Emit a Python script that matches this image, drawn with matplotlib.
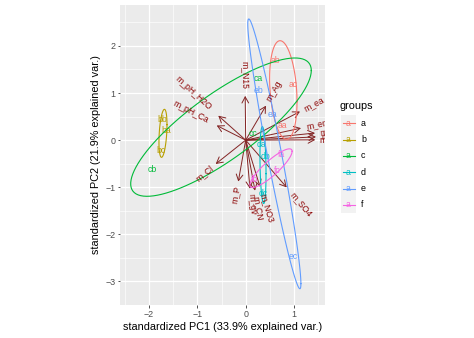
import numpy as np
import matplotlib
matplotlib.use("Agg")
import matplotlib.pyplot as plt
from matplotlib.patches import Rectangle
from matplotlib.lines import Line2D
from matplotlib.textpath import TextToPath
from matplotlib.font_manager import FontProperties

plt.rcParams['font.family'] = ['Liberation Sans', 'DejaVu Sans']

# ---------------- data ----------------
obs_labels = ['aa', 'ab', 'ac', 'ba', 'bb', 'bc', 'ca', 'cb', 'cc',
              'da', 'db', 'dc', 'ea', 'eb', 'ec', 'fa', 'fb', 'fc']
obs_groups = ['a', 'a', 'a', 'b', 'b', 'b', 'c', 'c', 'c',
              'd', 'd', 'd', 'e', 'e', 'e', 'f', 'f', 'f']
pc1 = [0.752, 0.607, 0.979, -1.650, -1.733, -1.754, 0.255, -1.940, 0.151,
       0.317, 0.400, 0.358, 0.545, 0.255, 0.979, 0.731, 0.193, 0.648]
pc2 = [0.317, 1.687, 1.189, 0.214, 0.442, -0.222, 1.313, -0.616, 0.131,
       -0.100, -0.349, -1.137, 0.546, 1.044, -2.463, -0.305, -0.844, -0.637]

group_names = ['a', 'b', 'c', 'd', 'e', 'f']
group_colors = ['#F8766D', '#B79F00', '#00BA38', '#00BFC4', '#619CFF', '#F564E3']

var_names = ['m_N15', 'm_Ag', 'm_ea', 'm_em', 'm_Ct', 'm_Nt', 'm_K',
             'm_pH_H2O', 'm_pH_Ca', 'm_Cl', 'm_P', 'm_gv', 'm_CN', 'm_NO3', 'm_SO4']
var_pc1 = [-0.010, 0.420, 1.124, 1.145, 1.435, 1.455, 1.440,
           -0.567, -0.600, -0.621, -0.153, 0.089, 0.193, 0.296, 0.849]
var_pc2 = [0.940, 0.732, 0.608, 0.255, 0.151, 0.069, 0.006,
           0.519, 0.311, -0.506, -0.880, -1.031, -1.072, -0.990, -1.004]

x_ticks = [-2, -1, 0, 1]
y_ticks = [-3, -2, -1, 0, 1, 2]
x_title = 'standardized PC1 (33.9% explained var.)'
y_title = 'standardized PC2 (21.9% explained var.)'
legend_title = 'groups'

# ---------------- figure ----------------
W, H = 474, 338
fig = plt.figure(figsize=(W / 100, H / 100), dpi=100)
L, R, T, B = 120, 325, 5, 305
ax = fig.add_axes([L / W, 1 - B / H, (R - L) / W, (B - T) / H])
ax.set_facecolor('#EBEBEB')
ax.set_xlim(-2.602, 1.642)
ax.set_ylim(-3.355, 2.869)
for s in ax.spines.values():
    s.set_visible(False)
ax.set_xticks(x_ticks)
ax.set_yticks(y_ticks)
ax.set_xticks([t + 0.5 for t in [-3] + x_ticks], minor=True)
ax.set_yticks([t + 0.5 for t in [-4] + y_ticks], minor=True)
ax.grid(which='major', color='white', lw=0.9)
ax.grid(which='minor', color='white', lw=0.45)
ax.set_axisbelow(True)
ax.tick_params(which='major', length=1.8, width=0.6, color='#333333',
               labelsize=6.4, labelcolor='#4D4D4D', pad=1.5)
ax.tick_params(which='minor', length=0)

ARROW_C = '#832424'
LABEL_C = '#8B0000'
FS_VAR = 6.2

# arrows
for vx, vy in zip(var_pc1, var_pc2):
    ax.annotate('', xy=(vx, vy), xytext=(0, 0),
                arrowprops=dict(arrowstyle='->,head_length=0.55,head_width=0.3',
                                color=ARROW_C, lw=0.7, shrinkA=0, shrinkB=0,
                                mutation_scale=8), zorder=2)

# observation labels
cmap = dict(zip(group_names, group_colors))
for lab, g, x, y in zip(obs_labels, obs_groups, pc1, pc2):
    ax.text(x, y, lab, color=cmap[g], fontsize=6.2, ha='center', va='center',
            clip_on=True, zorder=3)

# ellipses (ggbiplot style, prob 0.68)
ed = np.sqrt(-2 * np.log(1 - 0.68))
t = np.linspace(0, 2 * np.pi, 100)
circle = np.column_stack([np.cos(t), np.sin(t)])
px = np.array(pc1)
py = np.array(pc2)
og = np.array(obs_groups)
for g, c in zip(group_names, group_colors):
    m = og == g
    xy = np.column_stack([px[m], py[m]])
    sigma = np.cov(xy.T)
    Lc = np.linalg.cholesky(sigma)
    ell = circle @ Lc.T * ed + xy.mean(axis=0)
    ax.plot(ell[:, 0], ell[:, 1], color=c, lw=0.8, zorder=4)

# variable names
t2p = TextToPath()
fp = FontProperties(family='Liberation Sans', size=FS_VAR)
for name, vx, vy in zip(var_names, var_pc1, var_pc2):
    ang = np.degrees(np.arctan(vy / vx))
    w, h, d = t2p.get_text_width_height_descent(name, fp, ismath=False)
    off = 0.25 * w
    n = np.hypot(vx, vy)
    ux, uy = vx / n, vy / n
    ax.annotate(name, xy=(vx, vy), xytext=(off * ux, off * uy),
                textcoords='offset points', rotation=ang, rotation_mode='anchor',
                ha='left' if vx > 0 else 'right', va='center',
                color=LABEL_C, fontsize=FS_VAR, clip_on=True, zorder=5,
                annotation_clip=False)

# axis titles
fig.text((L + R) / 2 / W, 1 - 327 / H, x_title, ha='center', va='center', fontsize=7.8)
fig.text(96 / W, 1 - (T + B) / 2 / H, y_title, ha='center', va='center',
         rotation=90, fontsize=7.8)

# legend
def fx(p):
    return p / W

def fy(p):
    return 1 - p / H

fig.text(fx(340), fy(106), legend_title, ha='left', va='center', fontsize=7.8)
key_h = 16.3
for i, (g, c) in enumerate(zip(group_names, group_colors)):
    yc = 123.3 + i * key_h
    fig.add_artist(Rectangle((fx(341), fy(yc + key_h / 2)), 15 / W, key_h / H,
                             transform=fig.transFigure, facecolor='#F2F2F2',
                             edgecolor='none'))
    fig.add_artist(Line2D([fx(342.5), fx(354.5)], [fy(yc), fy(yc)],
                          transform=fig.transFigure, color=c, lw=0.8))
    fig.text(fx(348.5), fy(yc), 'a', color=c, fontsize=6.2, ha='center', va='center')
    fig.text(fx(361), fy(yc), g, color='black', fontsize=6.4, ha='left', va='center')

fig.savefig('out.png', dpi=100)
